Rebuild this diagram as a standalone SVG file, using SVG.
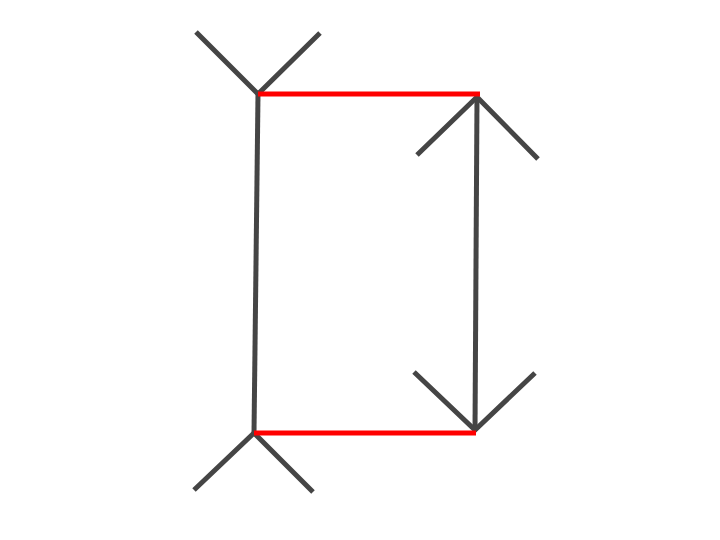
<svg xmlns="http://www.w3.org/2000/svg" width="720" height="540" viewBox="0 0 720 540">
<style>
.g{stroke:#454545;stroke-width:5;fill:none;stroke-linecap:butt;stroke-linejoin:miter}
.r{stroke:#ff0000;stroke-width:5;fill:none}
</style>
<rect width="720" height="540" fill="#ffffff"/>
<g id="left-figure">
<line class="g" x1="258" y1="94" x2="254" y2="433"/>
<polyline class="g" points="196,32 258,94 320,33"/>
<polyline class="g" points="194,490 254,433 313,492"/>
</g>
<g id="right-figure">
<line class="g" x1="477" y1="98" x2="475" y2="430"/>
<polyline class="g" points="417,155 477,97 538,159"/>
<polyline class="g" points="414,372 475,430 535,373"/>
</g>
<g id="connectors">
<line class="r" x1="258" y1="94" x2="480" y2="94"/>
<line class="r" x1="254" y1="433" x2="476" y2="433"/>
</g>
</svg>
